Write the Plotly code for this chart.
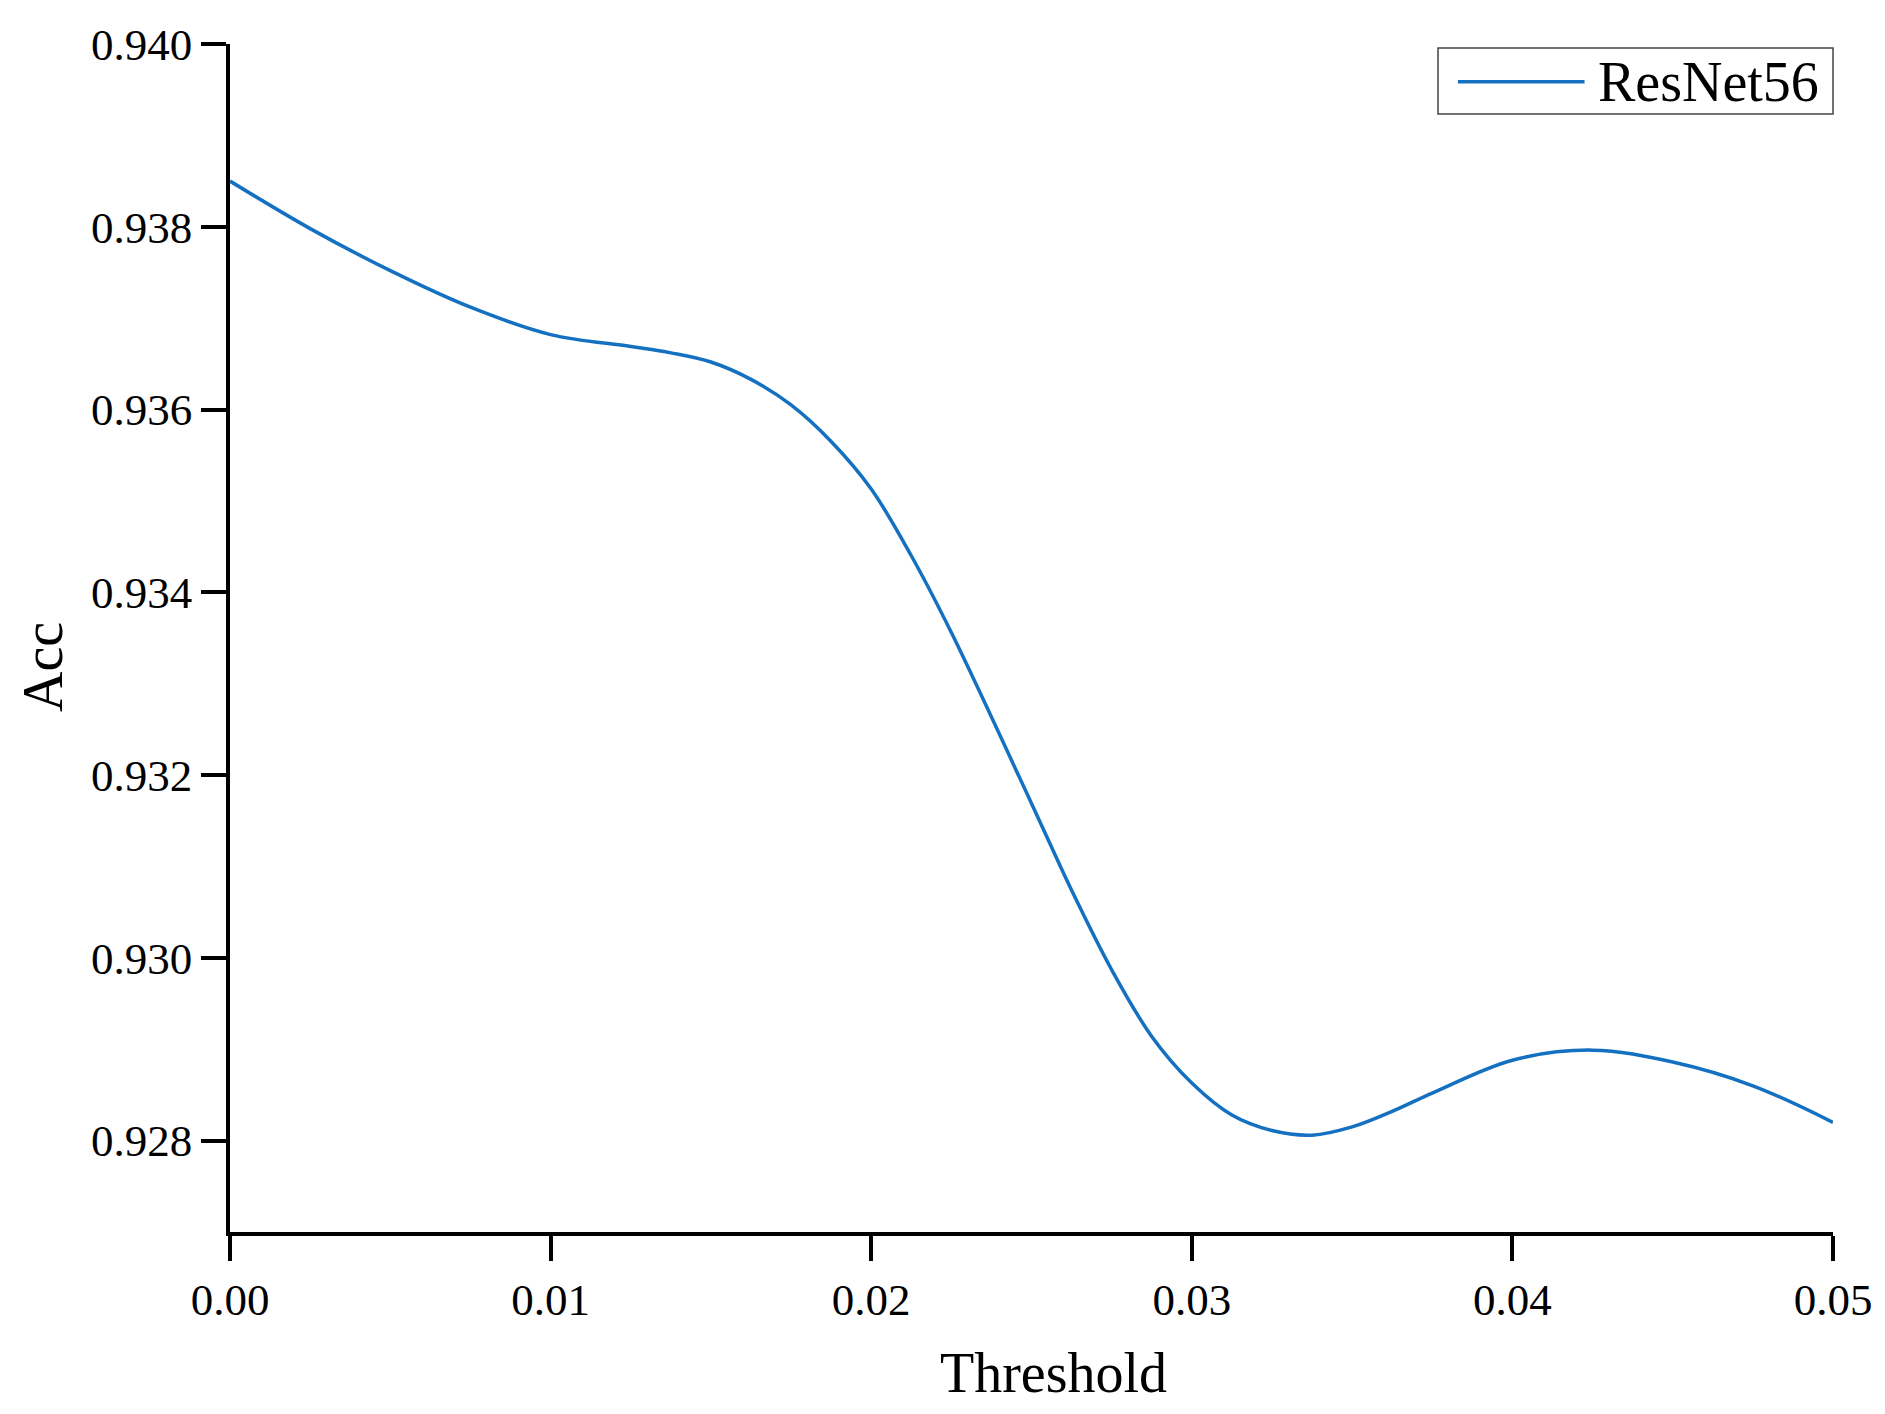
import plotly.graph_objects as go

# threshold vs accuracy
threshold = [0.0, 0.0025, 0.005, 0.0075, 0.01, 0.0125, 0.01375, 0.015, 0.01625,
             0.0175, 0.01875, 0.02, 0.02125, 0.0225, 0.025, 0.02625, 0.0275,
             0.02875, 0.03, 0.03125, 0.0325, 0.03375, 0.035, 0.03625, 0.0375,
             0.04, 0.0425, 0.045, 0.0475, 0.05]
acc = [0.93850, 0.93798, 0.93752, 0.93712, 0.93682, 0.93669, 0.93662, 0.93652,
       0.93633, 0.93605, 0.93565, 0.93513, 0.93440, 0.93356, 0.93169, 0.93074,
       0.92987, 0.92914, 0.92863, 0.92828, 0.92811, 0.92806, 0.92815, 0.92832,
       0.92852, 0.92888, 0.92899, 0.92886, 0.92860, 0.92820]
series_name = "ResNet56"
x_title = "Threshold"
y_title = "Acc"

x_ticks = [0.0, 0.01, 0.02, 0.03, 0.04, 0.05]
y_ticks = [0.928, 0.930, 0.932, 0.934, 0.936, 0.938, 0.940]

line_color = "#1470c0"
font_family = "Liberation Serif, Times New Roman, serif"

fig = go.Figure()
fig.add_trace(go.Scatter(
    x=threshold, y=acc, mode="lines", name=series_name,
    line=dict(color=line_color, width=3.5, shape="spline", smoothing=1.0),
    showlegend=False,
))

axis_style = dict(
    showline=True, linecolor="black", linewidth=3.5,
    ticks="outside", ticklen=25, tickwidth=3.5, tickcolor="black",
    showgrid=False, zeroline=False, mirror=False,
    tickfont=dict(family=font_family, size=45, color="black"),
)

fig.update_xaxes(range=[0, 0.05], tickvals=x_ticks, tickformat=".2f", **axis_style)
fig.update_yaxes(range=[0.927, 0.940], tickvals=y_ticks, tickformat=".3f", **axis_style)

# axis titles as annotations, they sit a bit off-centre in the original
title_font = dict(family=font_family, size=56, color="black")
fig.add_annotation(text=x_title, xref="paper", yref="paper", x=0.514, y=-0.119,
                   xanchor="center", yanchor="middle", showarrow=False, font=title_font)
fig.add_annotation(text=y_title, xref="paper", yref="paper", x=-0.117, y=0.476,
                   xanchor="center", yanchor="middle", textangle=-90,
                   showarrow=False, font=title_font)

# legend box drawn by hand so the sample line is as long as in the original
fig.add_shape(type="rect", xref="paper", yref="paper",
              x0=0.7536, x1=1.0, y0=0.9411, y1=0.9966,
              line=dict(color="#444444", width=1.5), fillcolor="white", layer="above")
fig.add_shape(type="line", xref="paper", yref="paper",
              x0=0.766, x1=0.845, y0=0.9683, y1=0.9683,
              line=dict(color=line_color, width=3.5), layer="above")
fig.add_annotation(text=series_name, xref="paper", yref="paper",
                   x=0.852, y=0.9683, xanchor="left", yanchor="middle",
                   showarrow=False, font=dict(family=font_family, size=56, color="black"))

# the page body adds an 8px offset, so margins are shifted to keep the plot area in place
fig.update_layout(
    width=1885, height=1414,
    margin=dict(l=222, r=60, t=36, b=190),
    plot_bgcolor="white", paper_bgcolor="white",
    font=dict(family=font_family, color="black"),
)

fig.write_html("out.html")
